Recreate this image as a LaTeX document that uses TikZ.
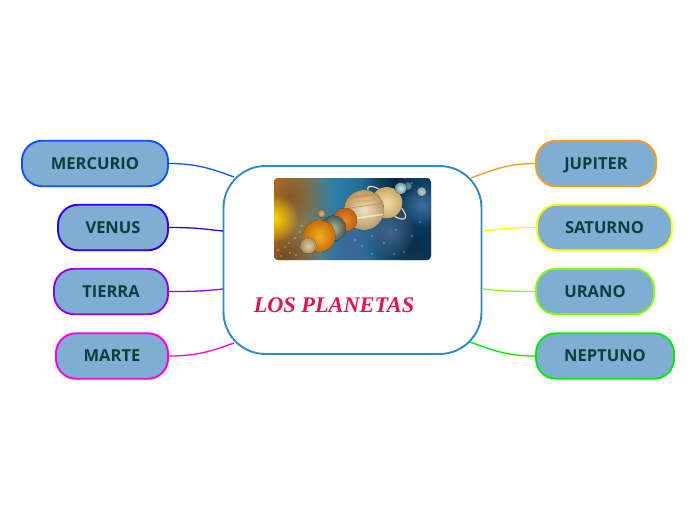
\documentclass[tikz,border=0pt]{standalone}
\usepackage{xcolor}
\usepackage{fontspec}
\setmainfont{Open Sans}
\newfontfamily\titlefont{Liberation Serif}
\usetikzlibrary{fadings}
\definecolor{pillfill}{HTML}{7EAED4}
\definecolor{pilltext}{HTML}{0A403A}
\definecolor{hubline}{HTML}{2A8BC9}
\definecolor{titlered}{HTML}{E8104F}
\definecolor{cmer}{HTML}{0B55FF}
\definecolor{cven}{HTML}{3300EE}
\definecolor{ctie}{HTML}{9900EE}
\definecolor{cmar}{HTML}{FF00DD}
\definecolor{cjup}{HTML}{FF9911}
\definecolor{csat}{HTML}{FFFF00}
\definecolor{cura}{HTML}{88FF00}
\definecolor{cnep}{HTML}{00EE00}
\definecolor{skyleft}{HTML}{C87A10}
\definecolor{skymid}{HTML}{2A7FA8}
\definecolor{skyright}{HTML}{0C3F66}
\tikzfading[name=softblob,inner color=transparent!0,outer color=transparent!100]
\tikzset{
  pill/.style={draw=#1,line width=1.9pt,fill=pillfill,rounded corners=20pt,minimum height=45.5pt,
    inner sep=0,text=pilltext,text height=11.5pt,text depth=0pt,font=\fontsize{16.5}{18}\selectfont\bfseries},
  hub/.style={draw=hubline,line width=1.9pt,fill=white,rounded corners=42pt,inner sep=0},
  link/.style={draw=#1,line width=1.3pt},
  blob/.style={path fading=softblob,fill=#1},
}
\newcommand{\planetdisc}[5]{%
    \definecolor{pinner}{HTML}{#4}\definecolor{pouter}{HTML}{#5}%
    \fill[inner color=pinner,outer color=pouter] (#1,#2) circle[radius=#3pt];}
\begin{document}
\begin{tikzpicture}[x=1pt,y=-1pt]
    \useasboundingbox (0,0) rectangle (696,520);

    % centre
    \node[hub,minimum width=258pt,minimum height=188pt] (hub) at (352.5,260) {};

    % picture of the planets
    \begin{scope}
        \clip[rounded corners=4pt] (274,178) rectangle (431,260);
        \fill[left color=skyleft,right color=skymid] (274,178) rectangle (335,260);
        \fill[left color=skymid,right color=skyright] (335,178) rectangle (431,260);
        % clouds
        \foreach \bx/\by/\br/\bc in {290/196/34/brown!70!black,285/256/34/brown!60!black,274/218/24/yellow!70!orange,
            350/245/30/cyan!50!blue!70!black,412/244/44/skyright!70!black,395/182/34/skyright!60!black,
            390/232/26/cyan!50!blue!60!black,422/205/22/cyan!60!blue!70!black}
            \path[blob=\bc] (\bx,\by) circle[radius=\br pt];
        % dust and stars
        \foreach \sx/\sy in {278/250,281/256,285/247,290/253,295/238,300/232,302/226,289/243,296/255,355/240,362/246,372/236,384/243,396/230,404/252,412/236,420/222,394/254,372/254,405/178,412/183}
            \fill[white!85!yellow] (\sx,\sy) circle[radius=.6pt];
        % rings and outer planets
        \draw[white!60!orange,line width=1.2pt,rotate around={-40:(386.7,202.7)}] (386.7,202.7) ellipse[x radius=24pt,y radius=7pt];
        \planetdisc{386.7}{202.7}{15.7}{F0DDA6}{C8A868}
        \planetdisc{364}{210}{20}{EFE3C4}{B89868}
        % bands of the big planet
        \begin{scope}
            \clip (364,210) circle[radius=20pt];
            \foreach \by/\bt/\bc in {196/1.5/orange!60!brown,201/1/brown!60!yellow,206/.8/orange!50!brown,217/1.5/white!80!yellow}
                \draw[\bc,opacity=.7,line width=\bt pt,rotate around={8:(364,210)}] (340,\by) -- (390,\by);
        \end{scope}
        % inner planets
        \planetdisc{345}{220}{12}{E88A28}{C05E10}
        \planetdisc{333.3}{228.3}{12.7}{A8B8A0}{4A5A50}
        \planetdisc{321.3}{213.3}{4.3}{D8C090}{8A7040}
        \planetdisc{319.3}{236}{16}{F5B020}{C86A08}
        \planetdisc{308.3}{245.7}{8}{E0CFA0}{A89060}
        \planetdisc{408}{186}{4}{5A90B8}{3A6A90}
        \planetdisc{400.7}{188.3}{5.7}{D0E8E8}{6A9AA8}
        \planetdisc{421.7}{191.7}{4.5}{C0CCD0}{90A0A8}
    \end{scope}

    % title
    \node[inner sep=0,text=titlered,font=\titlefont\fontsize{22.3}{26}\selectfont\bfseries\itshape] (title) at (334,305) {LOS PLANETAS};

    % left side
    \foreach \nam/\cx/\cy/\bw/\col/\txt/\ex/\ey/\ox/\oy in {mer/95/163.5/146/cmer/MERCURIO/234/177/-22/-8,
        ven/113/227.5/110/cven/VENUS/223/231/-20/-2,
        tie/111/291.5/114/ctie/TIERRA/223/289/-20/2,
        mar/112/356/112/cmar/MARTE/234/343/-22/8}
    {
        \node[pill=\col,minimum width=\bw pt] (\nam) at (\cx,\cy) {\txt};
        \coordinate (\nam end) at (\ex,\ey);
        \draw[link=\col] (\nam.east) .. controls +(28,0) and +(\ox,\oy) .. (\nam end);
    }

    % right side
    \foreach \nam/\cx/\cy/\bw/\col/\txt/\ex/\ey/\ox/\oy in {jup/596/163.5/120/cjup/JUPITER/471/178/22/-8,
        sat/604.5/227.5/135/csat/SATURNO/483/231/20/-2,
        ura/595/291.5/118/cura/URANO/483/289/20/2,
        nep/605/356/138/cnep/NEPTUNO/470/342/22/8}
    {
        \node[pill=\col,minimum width=\bw pt] (\nam) at (\cx,\cy) {\txt};
        \coordinate (\nam end) at (\ex,\ey);
        \draw[link=\col] (\nam.west) .. controls +(-28,0) and +(\ox,\oy) .. (\nam end);
    }
\end{tikzpicture}
\end{document}
